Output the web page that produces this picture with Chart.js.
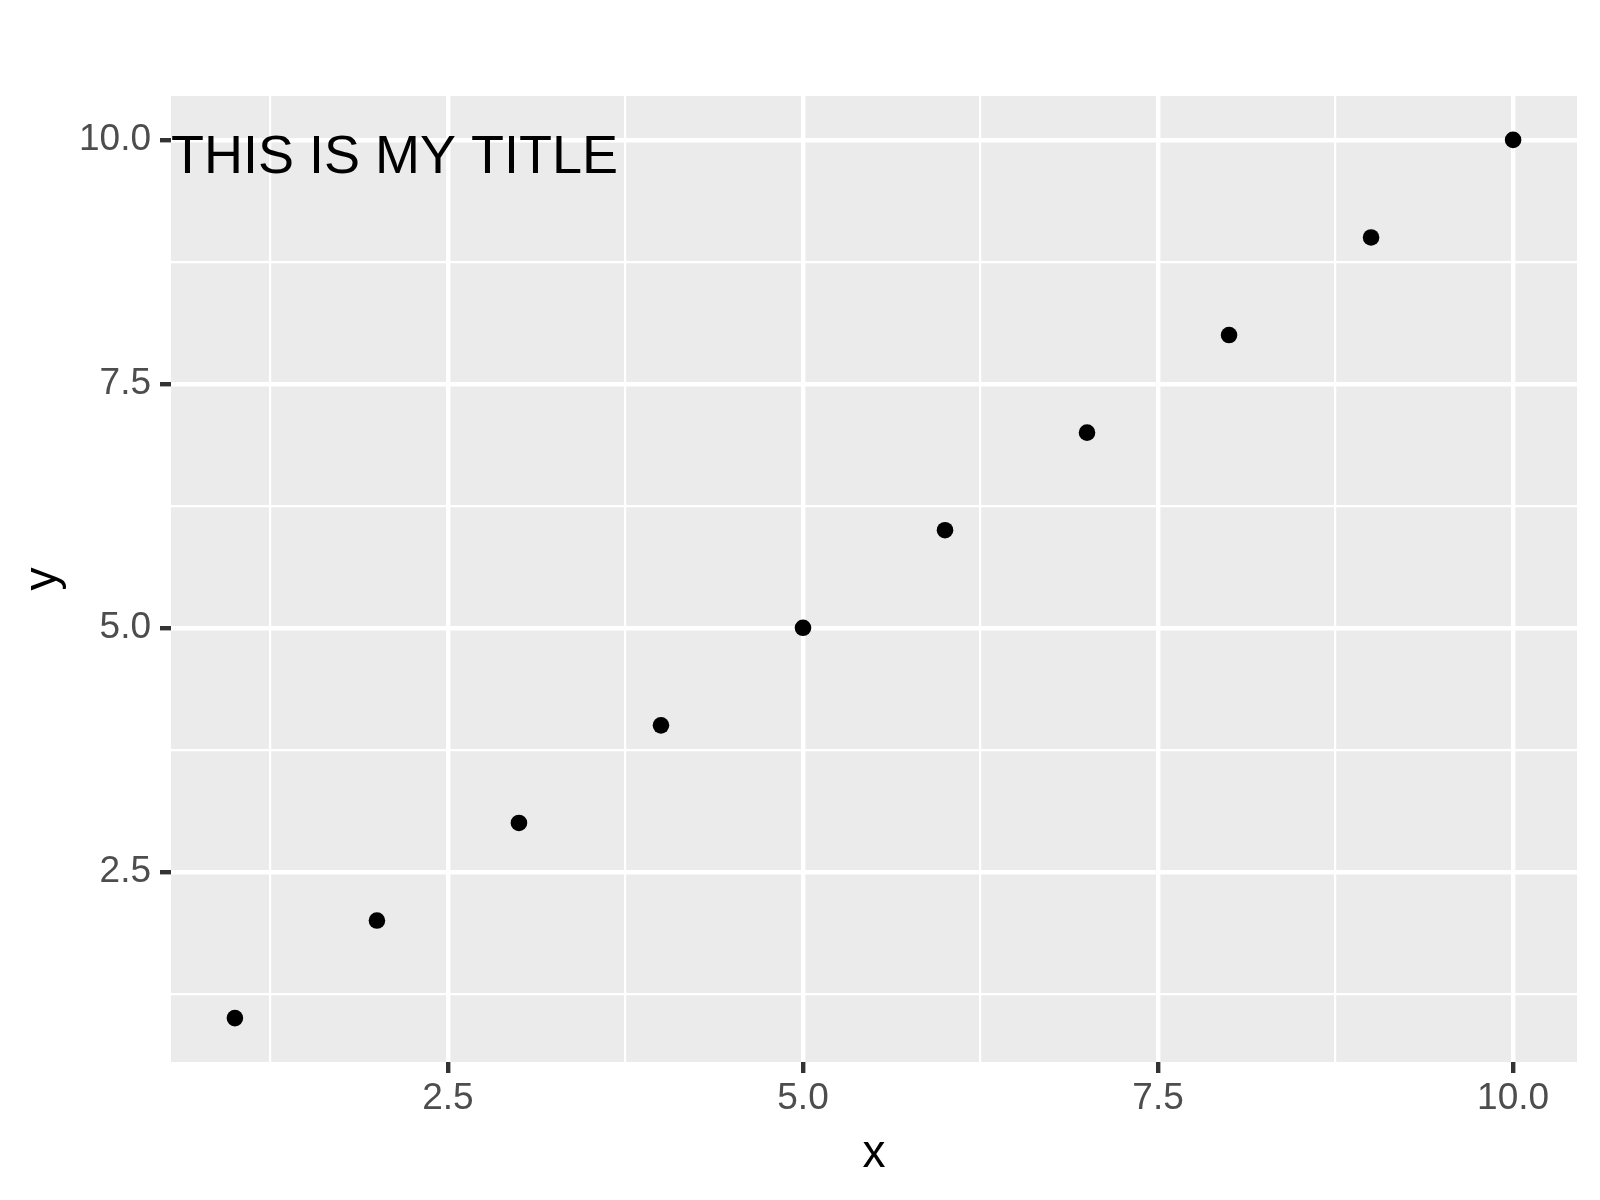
<!DOCTYPE html>
<html>
<head>
<meta charset="utf-8">
<script src="https://cdn.jsdelivr.net/npm/chart.js@4.4.0/dist/chart.umd.min.js"></script>
<style>
  body { margin: 0; background: #ffffff; }
  canvas { display: block; }
</style>
</head>
<body>
<canvas id="plot" width="1600" height="1200"></canvas>
<script>
// data
const xValues = [1, 2, 3, 4, 5, 6, 7, 8, 9, 10];
const yValues = [1, 2, 3, 4, 5, 6, 7, 8, 9, 10];
const majorTicks = [2.5, 5, 7.5, 10];
const minorTicks = [1.25, 3.75, 6.25, 8.75];
const axisMin = 0.55;
const axisMax = 10.45;
const plotTitle = "THIS IS MY TITLE";
const xTitle = "x";
const yTitle = "y";

const FONT = "'Liberation Sans', Arial, sans-serif";

function isMajor(v) {
  return majorTicks.some(m => Math.abs(m - v) < 1e-9);
}

// grey panel behind everything
const panelBg = {
  id: "panelBg",
  beforeDraw(chart) {
    const { ctx, chartArea: a } = chart;
    ctx.save();
    ctx.fillStyle = "#EBEBEB";
    ctx.fillRect(a.left, a.top, a.right - a.left, a.bottom - a.top);
    ctx.restore();
  }
};

// title sits inside the panel, top left
const insideTitle = {
  id: "insideTitle",
  afterDraw(chart) {
    const { ctx, chartArea: a } = chart;
    ctx.save();
    ctx.font = "54px " + FONT;
    ctx.fillStyle = "#000000";
    ctx.textAlign = "left";
    ctx.textBaseline = "alphabetic";
    ctx.fillText(plotTitle, a.left, 173);
    ctx.restore();
  }
};

function makeScale(title, horizontal) {
  return {
    type: "linear",
    min: axisMin,
    max: axisMax,
    afterBuildTicks: scale => {
      scale.ticks = majorTicks.concat(minorTicks).sort((a, b) => a - b).map(v => ({ value: v }));
    },
    afterFit: scale => {
      if (horizontal) scale.height = 138;
      else scale.width = 171;
    },
    border: { display: false },
    grid: {
      color: "#FFFFFF",
      lineWidth: c => (c.tick && isMajor(c.tick.value) ? 4.4 : 2.2),
      drawTicks: true,
      tickLength: 11,
      tickWidth: 4.4,
      tickColor: c => (c.tick && isMajor(c.tick.value) ? "#333333" : "rgba(0,0,0,0)")
    },
    ticks: {
      autoSkip: false,
      maxRotation: 0,
      padding: horizontal ? 4 : 9,
      color: "#4D4D4D",
      font: { family: FONT, size: 37 },
      callback: v => (isMajor(v) ? v.toFixed(1) : "")
    },
    title: {
      display: true,
      text: title,
      color: "#000000",
      font: { family: FONT, size: 46 },
      padding: horizontal ? { top: 0, bottom: 18 } : { top: 16, bottom: 0 }
    }
  };
}

new Chart(document.getElementById("plot").getContext("2d"), {
  type: "scatter",
  data: {
    datasets: [{
      data: xValues.map((x, i) => ({ x: x, y: yValues[i] })),
      backgroundColor: "#000000",
      borderWidth: 0,
      pointRadius: 8.3,
      pointHoverRadius: 8.3
    }]
  },
  options: {
    responsive: false,
    animation: false,
    devicePixelRatio: 1,
    layout: { padding: { top: 96, right: 23, left: 0, bottom: 0 } },
    plugins: {
      legend: { display: false },
      tooltip: { enabled: false }
    },
    scales: {
      x: makeScale(xTitle, true),
      y: makeScale(yTitle, false)
    }
  },
  plugins: [panelBg, insideTitle]
});
</script>
</body>
</html>
